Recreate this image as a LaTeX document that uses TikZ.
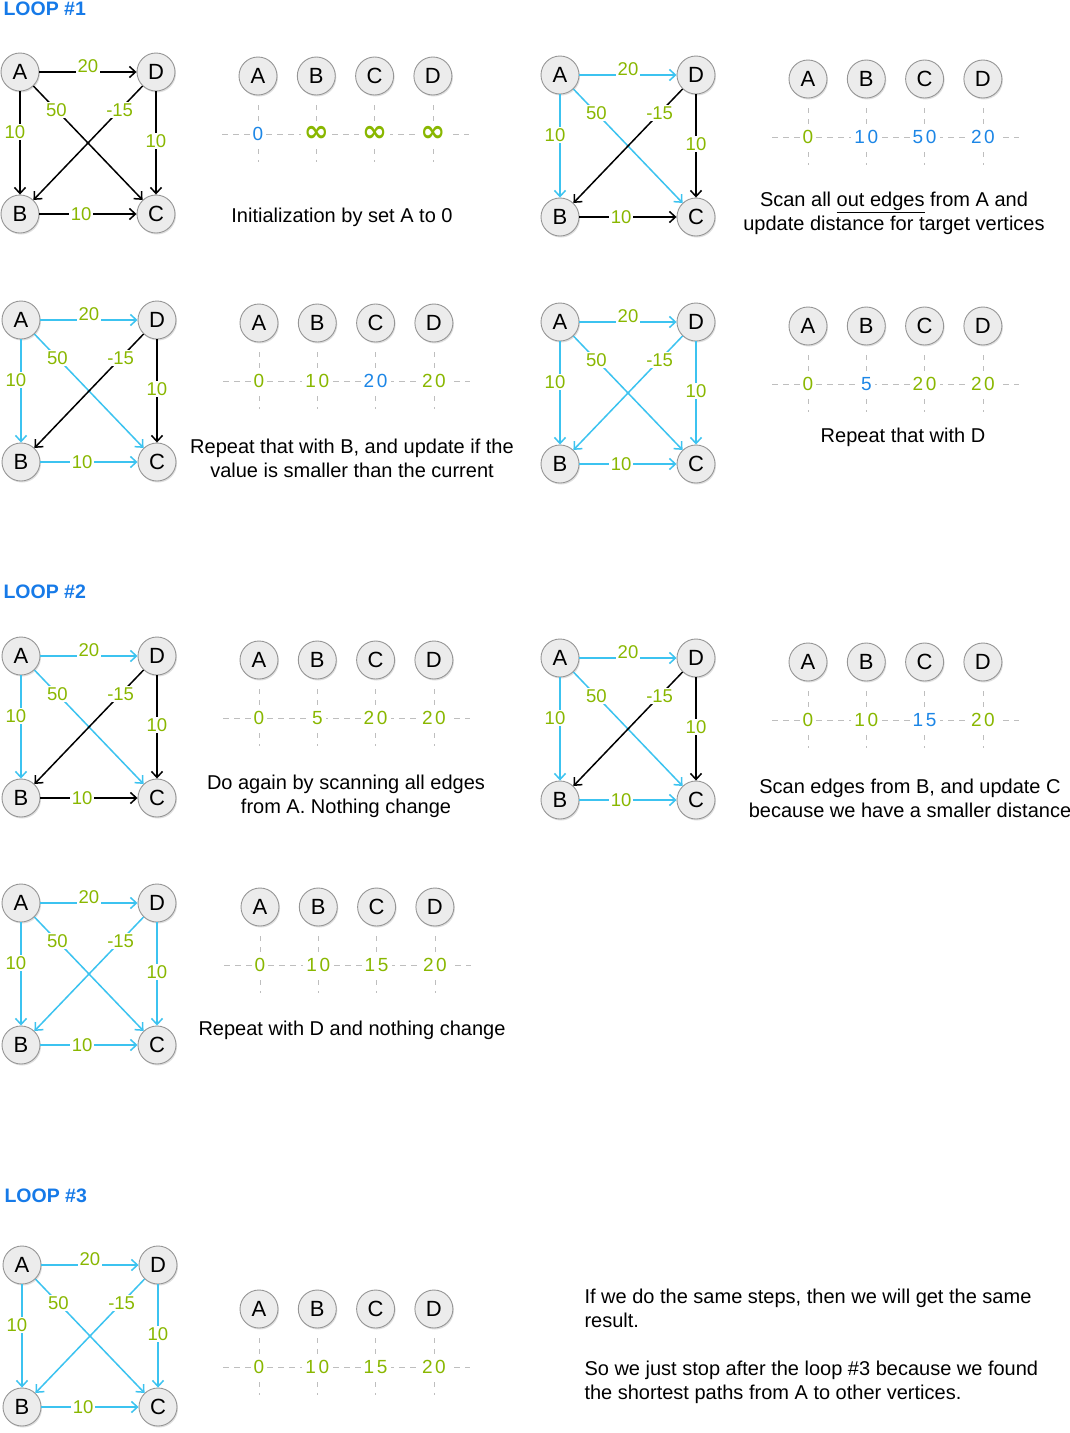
\documentclass[tikz,border=0pt]{standalone}
\usepackage{fontspec}
\setmainfont{Liberation Sans}
\newfontfamily\symfont{DejaVu Sans}
\usetikzlibrary{arrows.meta,shadows}
\definecolor{lgreen}{RGB}{137,183,0}
\definecolor{eblue}{RGB}{60,195,240}
\definecolor{vblue}{RGB}{28,134,230}
\definecolor{tblue}{RGB}{22,122,232}
\definecolor{vfill}{RGB}{236,236,236}
\definecolor{vline}{RGB}{150,150,150}
\definecolor{dline}{RGB}{190,190,190}
\newcommand\vg[1]{\textcolor{lgreen}{#1}}
\newcommand\vb[1]{\textcolor{vblue}{#1}}
\newcommand\infsym{{\symfont\bfseries\fontsize{30}{19}\selectfont ∞}}
\tikzset{
 vtx/.style={circle, minimum size=38pt, inner sep=0pt, fill=vfill, draw=vline, line width=0.9pt,
   font=\fontsize{22}{22}\selectfont,
   drop shadow={opacity=0.25, shadow xshift=1pt, shadow yshift=-1.5pt}},
 gedge/.style={line width=1.5pt, -{Straight Barb[length=6pt,width=11pt,line width=1.5pt]}},
 bk/.style={draw=black},
 bl/.style={draw=eblue},
 elab/.style={fill=white, inner sep=1.5pt, text=lgreen, font=\fontsize{18.5}{18.5}\selectfont},
 val/.style={fill=white, inner xsep=3pt, inner ysep=2pt, font=\fontsize{19}{19}\selectfont\addfontfeatures{LetterSpace=14}},
 hdash/.style={draw=dline, line width=0.8pt, dash pattern=on 6pt off 5pt},
 vdash/.style={draw=dline, line width=0.8pt, dash pattern=on 5pt off 6pt},
 desc/.style={align=center, font=\fontsize{20}{24}\selectfont},
 title/.style={anchor=west, text=tblue, font=\fontsize{19.5}{19.5}\selectfont\bfseries}
}
% graph panel: prefix, x, y, AD, AB, AC, DB, DC, BC
\newcommand\gpanel[9]{%
 \begin{scope}[shift={(#2,#3)}]
 \node[vtx] (#1A) at (0,0) {A};
 \node[vtx] (#1D) at (136,0) {D};
 \node[vtx] (#1B) at (0,142) {B};
 \node[vtx] (#1C) at (136,142) {C};
 \draw[gedge,#4] (#1A) -- node[elab,yshift=6pt]{20} (#1D);
 \draw[gedge,#5] (#1A) -- node[elab,pos=0.39,xshift=-5pt]{10} (#1B);
 \draw[gedge,#6] (#1A) -- node[elab,pos=0.21]{50} (#1C);
 \draw[gedge,#7] (#1D) -- node[elab,pos=0.21]{-15} (#1B);
 \draw[gedge,#8] (#1D) -- node[elab,pos=0.48]{10} (#1C);
 \draw[gedge,#9] (#1B) -- node[elab,pos=0.43]{10} (#1C);
 \end{scope}}
% distance table: prefix, x, y, vA, vB, vC, vD
\newcommand\dtable[7]{%
 \begin{scope}[shift={(#2,#3)}]
 \draw[hdash] (-36,58) -- (211,58);
 \foreach \i/\l in {0/A,1/B,2/C,3/D}{
   \draw[vdash] (\i*58.3,29) -- (\i*58.3,86);
   \node[vtx] (#1\l) at (\i*58.3,0) {\l};
 }
 \node[val] (#1vA) at (0,58) {#4};
 \node[val] (#1vB) at (58.3,58) {#5};
 \node[val] (#1vC) at (116.6,58) {#6};
 \node[val] (#1vD) at (174.9,58) {#7};
 \end{scope}}
\begin{document}
\begin{tikzpicture}[x=1pt,y=-1pt]
\useasboundingbox[fill=white] (0,0) rectangle (1070,1433);
% titles
\node[title] (L1) at (0,9) {LOOP \#1};
\node[title] (L2) at (0,592) {LOOP \#2};
\node[title] (L3) at (1,1196) {LOOP \#3};
% loop 1
\gpanel{ga}{20}{72}{bk}{bk}{bk}{bk}{bk}{bk}
\dtable{ta}{258}{76}{\vb{0}}{\vg{\infsym}}{\vg{\infsym}}{\vg{\infsym}}
\node[desc] (da) at (342,217) {Initialization by set A to 0};
\gpanel{gb}{560}{75}{bl}{bl}{bl}{bk}{bk}{bk}
\dtable{tb}{808}{79}{\vg{0}}{\vb{10}}{\vb{50}}{\vb{20}}
\node[desc] (db) at (894,213) {Scan all \underline{out edges} from A and\\update distance for target vertices};
\gpanel{gc}{21}{320}{bl}{bl}{bl}{bk}{bk}{bl}
\dtable{tc}{259}{323}{\vg{0}}{\vg{10}}{\vb{20}}{\vg{20}}
\node[desc] (dc) at (352,458) {Repeat that with B, and update if the\\value is smaller than the current};
\gpanel{gd}{560}{322}{bl}{bl}{bl}{bl}{bl}{bl}
\dtable{td}{808}{326}{\vg{0}}{\vb{5}}{\vg{20}}{\vg{20}}
\node[desc] (dd) at (903,437) {Repeat that with D};
% loop 2
\gpanel{ge}{21}{656}{bl}{bl}{bl}{bk}{bk}{bk}
\dtable{te}{259}{660}{\vg{0}}{\vg{5}}{\vg{20}}{\vg{20}}
\node[desc] (de) at (346,796) {Do again by scanning all edges\\from A. Nothing change};
\gpanel{gf}{560}{658}{bl}{bl}{bl}{bk}{bk}{bl}
\dtable{tf}{808}{662}{\vg{0}}{\vg{10}}{\vb{15}}{\vg{20}}
\node[desc] (df) at (910,798) {Scan edges from B, and update C\\because we have a smaller distance};
\gpanel{gg}{21}{903}{bl}{bl}{bl}{bl}{bl}{bl}
\dtable{tg}{260}{907}{\vg{0}}{\vg{10}}{\vg{15}}{\vg{20}}
\node[desc] (dg) at (352,1030) {Repeat with D and nothing change};
% loop 3
\gpanel{gh}{22}{1265}{bl}{bl}{bl}{bl}{bl}{bl}
\dtable{th}{259}{1309}{\vg{0}}{\vg{10}}{\vg{15}}{\vg{20}}
\node[desc,align=left,anchor=north west] (dh) at (581,1285) {If we do the same steps, then we will get the same\\result.\\[24pt]So we just stop after the loop \#3 because we found\\the shortest paths from A to other vertices.};
\end{tikzpicture}
\end{document}
